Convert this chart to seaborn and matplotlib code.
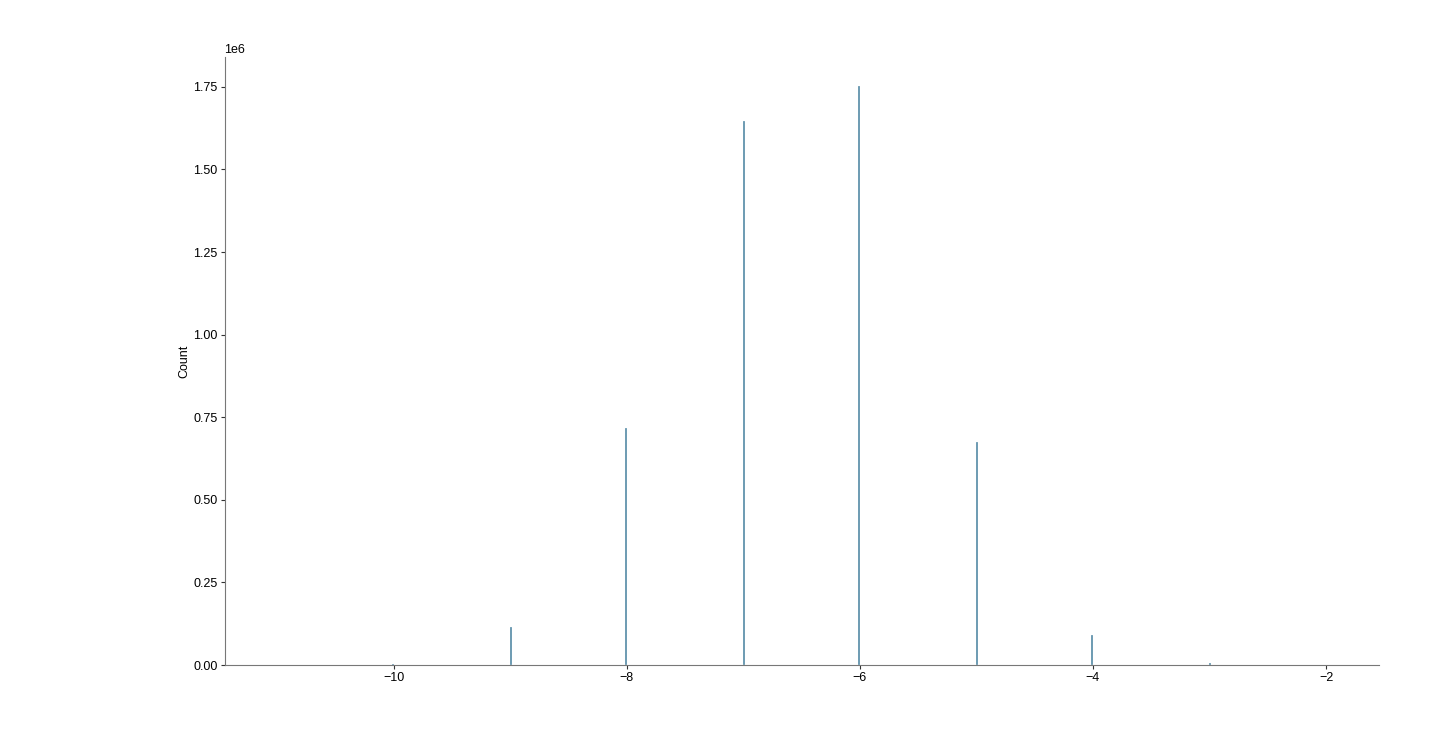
import numpy as np
import pandas as pd
import seaborn as sns
import matplotlib.pyplot as plt

# values and how often each one occurs
values = [-11, -10, -9, -8, -7, -6, -5, -4, -3, -2]
counts = [600, 2000, 115000, 716000, 1647000, 1753000, 674000, 91000, 5000, 300]

df = pd.DataFrame({'value': values, 'count': counts})

sns.set_style('ticks')
plt.rcParams['font.family'] = ['Liberation Sans', 'DejaVu Sans']

fig, ax = plt.subplots(figsize=(14.3, 7.3), dpi=100)
fig.subplots_adjust(left=0.157, right=0.964, top=0.922, bottom=0.089)

sns.histplot(data=df, x='value', weights='count', bins=500, ax=ax,
             color='#4f86a3', alpha=0.9)
sns.despine()

ax.set_xlabel('')
ax.set_ylabel('Count', fontsize=9, color='black', labelpad=2)
ax.tick_params(labelsize=9, labelcolor='black', length=3, color='#333333', pad=2)
ax.yaxis.get_offset_text().set_fontsize(9)
for s in ['left', 'bottom']:
    ax.spines[s].set_color('#777777')

plt.savefig('out.png', dpi=100)
